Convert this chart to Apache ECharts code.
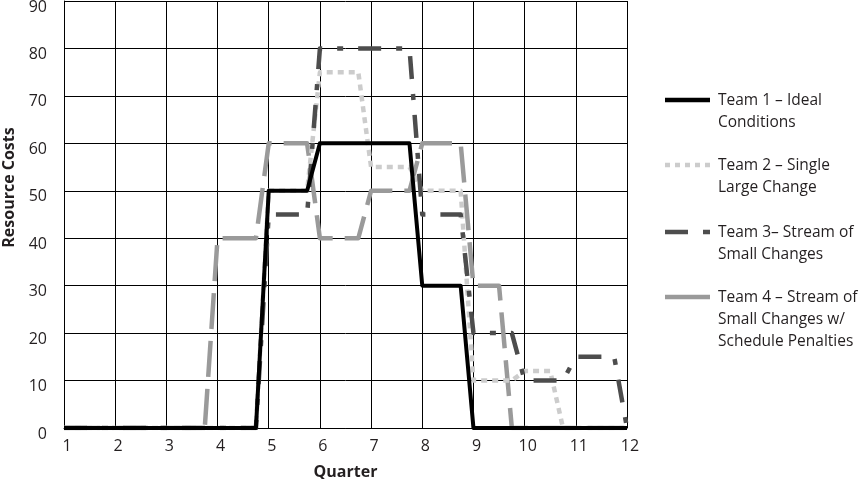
<!DOCTYPE html>
<html>
<head>
<meta charset="utf-8">
<script src="https://cdn.jsdelivr.net/npm/echarts@6/dist/echarts.min.js"></script>
<style>
html,body{margin:0;padding:0;background:#fff;}
#chart{width:862px;height:479px;}
</style>
</head>
<body>
<div id="chart"></div>
<script>
// ---- data ----
const seriesNames = [
  'Team 1 – Ideal\nConditions',
  'Team 2 – Single\nLarge Change',
  'Team 3– Stream of\nSmall Changes',
  'Team 4 – Stream of\nSmall Changes w/\nSchedule Penalties'
];
const team1 = [[1,0],[4.75,0],[5,50],[5.75,50],[6,60],[7.75,60],[8,30],[8.75,30],[9,0],[12,0]];
const team2 = [[1,0],[4.75,0],[5,50],[5.75,50],[6,75],[6.75,75],[7,55],[7.75,55],[8,50],[8.75,50],[9,10],[9.75,10],[10,12],[10.5,12],[10.75,0],[12,0]];
const team3 = [[1,0],[4.75,0],[5,45],[5.75,45],[6,80],[7.75,80],[8,45],[8.75,45],[9,20],[9.75,20],[10,10],[10.75,10],[11,15],[11.75,15],[12,0]];
const team4 = [[1,0],[3.75,0],[4,40],[4.75,40],[5,60],[5.75,60],[6,40],[6.75,40],[7,50],[7.75,50],[8,60],[8.75,60],[9,30],[9.5,30],[9.75,0],[12,0]];
const xMin = 1, xMax = 12, xStep = 1;
const yMin = 0, yMax = 90, yStep = 10;
const xTitle = 'Quarter';
const yTitle = 'Resource Costs';

// ---- styles ----
const FONT = '"Open Sans", "Noto Sans", sans-serif';
const TXT = '#231f20';
const styles = [
  {color:'#000000', width:4, type:'solid'},
  {color:'#cccccc', width:4.5, type:[6,5]},
  {color:'#4d4d4d', width:4.5, type:[23,15,6,15]},
  {color:'#9a9a9a', width:4.5, type:[36,12]}
];
const legendDash = [null, [5,5], [23,15,7,15], null];
const dataSets = [team1, team2, team3, team4];
const drawOrder = [3, 1, 2, 0];

const chart = echarts.init(document.getElementById('chart'), null, {renderer:'canvas'});

const series = drawOrder.map((i, k) => ({
  name: seriesNames[i],
  type: 'line',
  data: dataSets[i],
  symbol: 'none',
  z: 2 + k,
  lineStyle: {color: styles[i].color, width: styles[i].width, type: styles[i].type, cap: 'butt', join: 'round'},
  itemStyle: {color: styles[i].color},
  animation: false
}));

// legend drawn as graphic (icon aligned with first text line)
const legendTops = [100, 165, 232, 297];
const graphics = [];
seriesNames.forEach((nm, i) => {
  const y = legendTops[i];
  graphics.push({
    type: 'line', shape: {x1: 665, y1: y, x2: 710, y2: y},
    style: {stroke: styles[i].color, lineWidth: 4.5, lineDash: legendDash[i]}
  });
  graphics.push({
    type: 'text', x: 718, y: y - 10,
    style: {text: nm, fill: TXT, font: '15.5px ' + FONT, lineHeight: 22, verticalAlign: 'top'}
  });
});

chart.setOption({
  backgroundColor: '#ffffff',
  animation: false,
  grid: {left: 64, right: 235, top: 1, bottom: 51, containLabel: false, outerBoundsMode: 'none'},
  xAxis: {
    type: 'value', min: xMin, max: xMax, interval: xStep,
    name: xTitle, nameLocation: 'middle', nameGap: 36,
    nameTextStyle: {fontFamily: FONT, fontWeight: 'bold', fontSize: 16, color: TXT},
    axisLine: {show: true, lineStyle: {color: '#000', width: 1}},
    axisTick: {show: false},
    axisLabel: {fontFamily: FONT, fontSize: 16, color: TXT, margin: 10, padding: [0,0,0,6]},
    splitLine: {show: true, lineStyle: {color: '#000', width: 1}}
  },
  yAxis: {
    type: 'value', min: yMin, max: yMax, interval: yStep,
    name: yTitle, nameLocation: 'middle', nameGap: 47, nameRotate: 90,
    nameTextStyle: {fontFamily: FONT, fontWeight: 'bold', fontSize: 16, color: TXT, padding: [0,0,0,54]},
    axisLine: {show: true, lineStyle: {color: '#000', width: 1}},
    axisTick: {show: false},
    axisLabel: {fontFamily: FONT, fontSize: 16, color: TXT, margin: 17, verticalAlign: 'top', lineHeight: 12},
    splitLine: {show: true, lineStyle: {color: '#000', width: 1}}
  },
  series: series,
  graphic: graphics
});
</script>
</body>
</html>
